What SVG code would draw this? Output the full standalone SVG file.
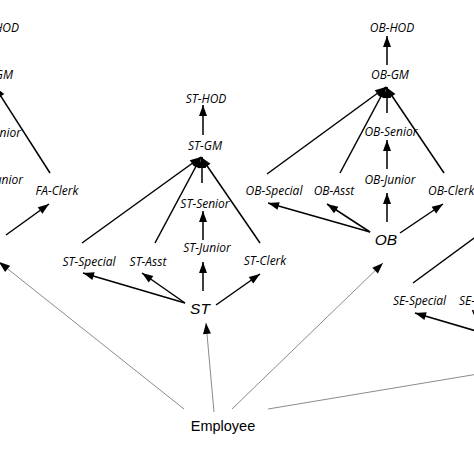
<svg xmlns="http://www.w3.org/2000/svg" width="474" height="474" viewBox="0 0 474 474">
<defs>
<marker id="ah" markerUnits="userSpaceOnUse" markerWidth="12" markerHeight="9" refX="11" refY="4" orient="auto" overflow="visible">
<path d="M0,0 L11,4 L0,8 z" fill="#000"/>
</marker>
<style>
.t{font-family:"Open Sans","DejaVu Sans",sans-serif;font-style:italic;font-size:12px;fill:#000;text-anchor:middle}
.b{font-family:"Liberation Sans",Arial,sans-serif;font-style:italic;font-size:15.5px;fill:#000;text-anchor:middle}
.e{font-family:"Liberation Sans",Arial,sans-serif;font-size:14.5px;fill:#000;text-anchor:middle}
.k{stroke:#000;stroke-width:1.5;fill:none}
.a{stroke:#000;stroke-width:1.5;fill:none;marker-end:url(#ah)}
.g{stroke:#8a8a8a;stroke-width:1;fill:none;marker-end:url(#ah)}
</style>
</defs>
<rect width="474" height="474" fill="#fff"/>
<g id="connectors">
<!-- FA -->
<line class="a" x1="50" y1="173" x2="-5" y2="87"/>
<line class="a" x1="6" y1="235" x2="49" y2="204"/>
<!-- ST -->
<line class="a" x1="203" y1="135" x2="203" y2="105"/>
<line class="a" x1="82" y1="243" x2="201" y2="157"/>
<line class="a" x1="155" y1="243" x2="201" y2="157"/>
<line class="a" x1="202" y1="183" x2="202" y2="157"/>
<line class="a" x1="260" y1="243" x2="201" y2="157"/>
<line class="a" x1="203" y1="240" x2="203" y2="211"/>
<line class="a" x1="203" y1="291" x2="203" y2="262"/>
<line class="a" x1="185" y1="303" x2="83" y2="273"/>
<line class="a" x1="185" y1="303" x2="142" y2="273"/>
<line class="a" x1="216" y1="305" x2="260" y2="274"/>
<!-- OB -->
<line class="a" x1="387" y1="65" x2="387" y2="36"/>
<line class="a" x1="267" y1="174" x2="386" y2="87"/>
<line class="a" x1="340" y1="173" x2="386" y2="87"/>
<line class="a" x1="387" y1="113" x2="387" y2="87"/>
<line class="a" x1="444" y1="173" x2="386" y2="87"/>
<line class="a" x1="387" y1="169" x2="387" y2="140"/>
<line class="a" x1="387" y1="222" x2="387" y2="193"/>
<line class="a" x1="370" y1="232" x2="268" y2="203"/>
<line class="a" x1="370" y1="232" x2="327" y2="204"/>
<line class="a" x1="400" y1="233" x2="443" y2="204"/>
<!-- SE -->
<line class="a" x1="500" y1="338" x2="415" y2="313"/>
<line class="k" x1="413" y1="283" x2="530" y2="197"/>
<line class="k" x1="472.5" y1="310" x2="476" y2="318"/>
<!-- Employee -->
<line class="g" x1="184" y1="409" x2="-1" y2="262"/>
<line class="g" x1="214" y1="412" x2="206" y2="323"/>
<line class="g" x1="232" y1="409" x2="383" y2="263"/>
<line class="g" x1="268" y1="409" x2="520" y2="367"/>
</g>
<g id="FA-HOD"><text class="t" x="19" y="32" style="text-anchor:end">FA-HOD</text></g>
<g id="FA-GM"><text class="t" x="13" y="79" style="text-anchor:end">FA-GM</text></g>
<g id="FA-Senior"><text class="t" x="21" y="137" style="text-anchor:end">FA-Senior</text></g>
<g id="FA-Junior"><text class="t" x="23" y="184" style="text-anchor:end">FA-Junior</text></g>
<g id="FA-Clerk"><text class="t" x="57" y="195">FA-Clerk</text></g>
<g id="ST-HOD"><text class="t" x="206" y="103">ST-HOD</text></g>
<g id="ST-GM"><text class="t" x="205" y="150">ST-GM</text></g>
<g id="ST-Senior"><text class="t" x="205" y="208">ST-Senior</text></g>
<g id="ST-Junior"><text class="t" x="207" y="252">ST-Junior</text></g>
<g id="ST-Special"><text class="t" x="89" y="266">ST-Special</text></g>
<g id="ST-Asst"><text class="t" x="148" y="266">ST-Asst</text></g>
<g id="ST-Clerk"><text class="t" x="265" y="265">ST-Clerk</text></g>
<g id="ST"><text class="b" x="200" y="314">ST</text></g>
<g id="OB-HOD"><text class="t" x="392" y="32">OB-HOD</text></g>
<g id="OB-GM"><text class="t" x="390" y="79">OB-GM</text></g>
<g id="OB-Senior"><text class="t" x="391" y="136">OB-Senior</text></g>
<g id="OB-Junior"><text class="t" x="390" y="184">OB-Junior</text></g>
<g id="OB-Special"><text class="t" x="274" y="195">OB-Special</text></g>
<g id="OB-Asst"><text class="t" x="334" y="195">OB-Asst</text></g>
<g id="OB-Clerk"><text class="t" x="428" y="195" style="text-anchor:start">OB-Clerk</text></g>
<g id="OB"><text class="b" x="386" y="245">OB</text></g>
<g id="SE-Special"><text class="t" x="419.5" y="305">SE-Special</text></g>
<g id="SE-Asst"><text class="t" x="459" y="305" style="text-anchor:start">SE-Asst</text></g>
<g id="Employee"><text class="e" x="223" y="431">Employee</text></g>
</svg>
